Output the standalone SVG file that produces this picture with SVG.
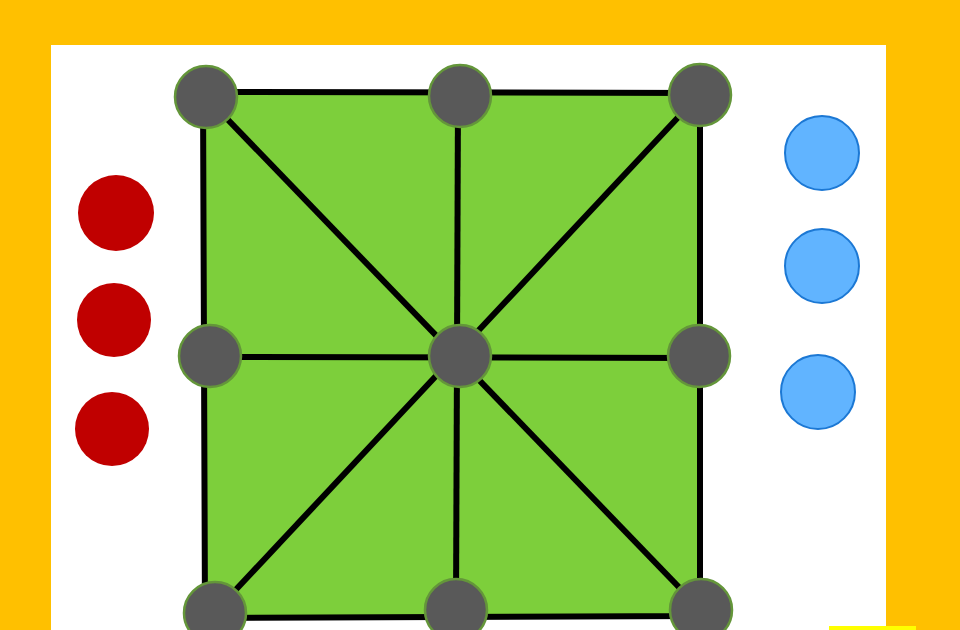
<svg xmlns="http://www.w3.org/2000/svg" width="960" height="630" viewBox="0 0 960 630">
<style>
.node{fill:#595959;stroke:#64963A;stroke-width:2.5}
.red{fill:#C00000}
.blue{fill:#61B4FF;stroke:#1C78D4;stroke-width:2}
.line{stroke:#000;stroke-width:6;stroke-linecap:butt;fill:none}
</style>
<rect x="0" y="0" width="960" height="630" fill="#FFC000"/>
<rect x="51" y="45" width="835" height="590" fill="#FFFFFF"/>
<rect x="829" y="626" width="87" height="10" fill="#FFFF00"/>
<g id="board">
<polygon points="203,92 700,93 700,616 205,618" fill="#7DCF3B" stroke="#000" stroke-width="6"/>
</g>
<g id="connectors">
<line class="line" x1="206" y1="97" x2="701" y2="610"/>
<line class="line" x1="699" y1="95" x2="215" y2="612"/>
<line class="line" x1="458" y1="96" x2="456" y2="611"/>
<line class="line" x1="210" y1="357" x2="698" y2="358"/>
</g>
<g id="n-tl"><circle class="node" cx="206" cy="97" r="31"/></g>
<g id="n-tm"><circle class="node" cx="460" cy="96" r="31"/></g>
<g id="n-tr"><circle class="node" cx="700" cy="95" r="31"/></g>
<g id="n-ml"><circle class="node" cx="210" cy="356" r="31"/></g>
<g id="n-c"><circle class="node" cx="460" cy="356" r="31"/></g>
<g id="n-mr"><circle class="node" cx="699" cy="356" r="31"/></g>
<g id="n-bl"><circle class="node" cx="215" cy="613" r="31"/></g>
<g id="n-bm"><circle class="node" cx="456" cy="610" r="31"/></g>
<g id="n-br"><circle class="node" cx="701" cy="610" r="31"/></g>
<g id="red1"><circle class="red" cx="116" cy="213" r="38"/></g>
<g id="red2"><circle class="red" cx="114" cy="320" r="37"/></g>
<g id="red3"><circle class="red" cx="112" cy="429" r="37"/></g>
<g id="blue1"><circle class="blue" cx="822" cy="153" r="37"/></g>
<g id="blue2"><circle class="blue" cx="822" cy="266" r="37"/></g>
<g id="blue3"><circle class="blue" cx="818" cy="392" r="37"/></g>
</svg>
